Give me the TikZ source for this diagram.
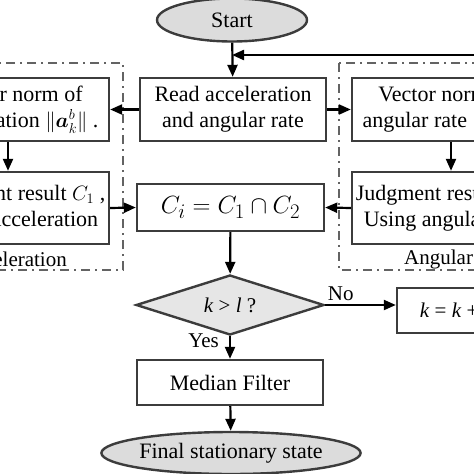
\documentclass[tikz,border=0pt]{standalone}
\usepackage{fontspec}
\setmainfont{Liberation Serif}
\usepackage{amsmath,bm}
\usetikzlibrary{arrows.meta,shapes.geometric}
\definecolor{edge}{HTML}{3C3C3C}
\definecolor{fillg}{HTML}{DCDCDC}
\tikzset{
  box/.style={draw=edge, line width=2.4pt, fill=white, minimum width=186pt, align=center, inner sep=0pt, font=\fontsize{22}{26}\selectfont},
  oval/.style={ellipse, draw=edge, line width=2.4pt, fill=fillg, inner sep=0pt, font=\fontsize{22}{26}\selectfont},
  dia/.style={diamond, draw=edge, line width=2.4pt, fill=fillg!70, aspect=3.1, inner sep=0pt, minimum width=188pt, minimum height=60pt, font=\fontsize{21}{24}\selectfont},
  grp/.style={draw=edge!80, line width=1.3pt, dash pattern=on 9pt off 5pt on 2pt off 5pt},
  arr/.style={-{Triangle[length=12pt,width=10pt]}, line width=2.2pt, black},
  lbl/.style={font=\fontsize{21}{24}\selectfont, inner sep=0pt}
}
\begin{document}
\begin{tikzpicture}[x=1pt,y=-1pt]
\useasboundingbox (0,0) rectangle (474,474);
\clip (0,0) rectangle (474,474);
% groups
\draw[grp] (-90,63) rectangle (123,270);
\draw[grp] (339,63) rectangle (560,270);
% nodes
\node[oval, minimum width=150pt, minimum height=43pt] (start) at (232,20) {Start};
\node[box, minimum height=63pt] (read) at (233,109.5) {Read acceleration\\and angular rate};
\node[box, minimum height=63pt] (l1) at (16,109.5) {Vector norm of\\acceleration $\|\bm{a}_k^b\|$ .};
\node[box, minimum height=63pt] (r1) at (445,109.5) {Vector norm of\\angular rate $\|\bm{\omega}_k^b\|$ .};
\node[box, minimum height=72pt] (l2) at (16,208) {Judgment result $C_1$ ,\\Using acceleration};
\node[box, minimum height=72pt] (r2) at (445,208) {Judgment result $C_2$ ,\\Using angular rate};
\node[box, minimum width=187pt, minimum height=47pt, font=\fontsize{32}{36}\selectfont] (ci) at (230.5,207.5) {$C_i = C_1 \cap C_2$};
\node[lbl, anchor=east] (la) at (67,259) {Acceleration};
\node[lbl, anchor=west] (ra) at (404,259) {Angular rate};
\node[dia] (d) at (230,305) {\textit{k} > \textit{l} ?};
\node[box, minimum width=120pt, minimum height=45pt, font=\fontsize{21}{24}\selectfont] (kb) at (457,310.5) {\textit{k} = \textit{k} + 1};
\node[box, minimum height=45pt] (mf) at (230,382.5) {Median Filter};
\node[oval, minimum width=234pt, minimum height=42pt] (fin) at (231,453) {Final stationary state};
\coordinate (fb) at (232,55);
\coordinate (far) at (520,55);
% connectors
\draw[arr] (start) -- (read);
\draw[arr] (read.west) -- (l1.east);
\draw[arr] (read.east) -- (r1.west);
\draw[arr] ([xshift=-8pt]l1.south) -- ([xshift=-8pt]l2.north);
\draw[arr] ([xshift=6pt]r1.south) -- ([xshift=6pt]r2.north);
\draw[arr] (l2.east) -- (ci.west);
\draw[arr] (r2.west) -- (ci.east);
\draw[arr] (ci) -- (d);
\draw[arr] (d.east) -- node[lbl, above=3pt, pos=0.22] (no) {No} (d.east -| kb.west);
\draw[arr] (d.south) -- node[lbl, left=10pt, pos=0.2] (yes) {Yes} (mf.north);
\draw[arr] (mf) -- (fin);
\draw[line width=2.2pt] (kb.east) -- (kb.east -| far) -- (far);
\draw[arr] (far) -- (fb);
\end{tikzpicture}
\end{document}
